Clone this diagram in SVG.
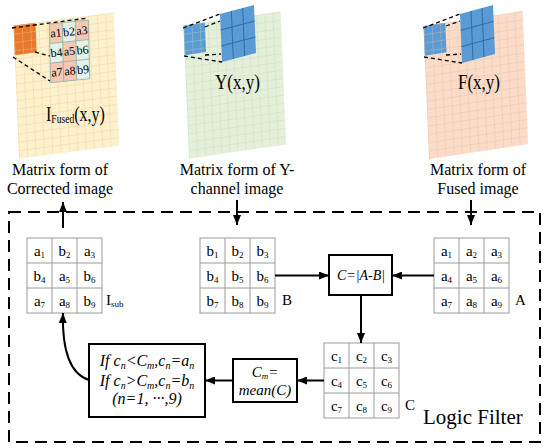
<svg xmlns="http://www.w3.org/2000/svg" width="550" height="448" viewBox="0 0 550 448">
<style>
.t{font-family:"Liberation Serif","Times New Roman",serif;fill:#000}
.lab{font-size:16px;text-anchor:middle}
.m{font-size:15px;text-anchor:middle}
.s{font-size:9px}
.it{font-style:italic}
.mx{fill:#fff;stroke:#9a9a9a;stroke-width:1}
.box{fill:#fff;stroke:#000;stroke-width:2}
.con{fill:none;stroke:#000;stroke-width:2;marker-end:url(#ah)}
.dash{fill:none;stroke:#000;stroke-width:1.3;stroke-dasharray:4 3}
.blue{fill:#5B9BD5}
.bl{fill:none;stroke:#2F6CA8;stroke-width:1;vector-effect:non-scaling-stroke}
.cl{stroke:#8fa8a0;stroke-width:0.8;vector-effect:non-scaling-stroke}
.ca{fill:#F5C8B3}
.cb{fill:#E1F2E9}
.mt{font-size:12px;text-anchor:middle}
</style>
<defs>
<marker id="ah" markerWidth="10" markerHeight="8" refX="10" refY="4" orient="auto" markerUnits="userSpaceOnUse"><path d="M0,0L10,4L0,8z" fill="#000"/></marker>
<pattern id="gY" width="8.333" height="8.125" patternUnits="userSpaceOnUse"><path d="M0 0H8.333M0 0V8.125" fill="none" stroke="#E2CD98" stroke-width="0.7"/></pattern>
<pattern id="gG" width="8.333" height="8.125" patternUnits="userSpaceOnUse"><path d="M0 0H8.333M0 0V8.125" fill="none" stroke="#C3D8B2" stroke-width="0.7"/></pattern>
<pattern id="gP" width="8.333" height="8.125" patternUnits="userSpaceOnUse"><path d="M0 0H8.333M0 0V8.125" fill="none" stroke="#E8BBA0" stroke-width="0.7"/></pattern>
</defs>

<g id="sheet-fused">
  <g transform="matrix(1 -0.13 0.0423 1.023 13.5 25.5)">
    <rect width="100" height="130" fill="#FDF0CD"/>
    <rect width="22" height="29" fill="#E8782B"/>
    <rect width="100" height="130" fill="url(#gY)"/>
  </g>
  <path class="dash" d="M12,28L88,18M35,52L50,56M13,57L50,81"/>
  <g transform="matrix(13 -1.33 0.47 19.56 49.3 24)">
    <rect x="0" y="0" width="1" height="1" class="ca"/><rect x="1" y="0" width="1" height="1" class="cb"/><rect x="2" y="0" width="1" height="1" class="ca"/>
    <rect x="0" y="1" width="1" height="1" class="cb"/><rect x="1" y="1" width="1" height="1" class="ca"/><rect x="2" y="1" width="1" height="1" class="cb"/>
    <rect x="0" y="2" width="1" height="1" class="ca"/><rect x="1" y="2" width="1" height="1" class="ca"/><rect x="2" y="2" width="1" height="1" class="cb"/>
    <path class="cl" fill="none" d="M0 0H3V3H0ZM1 0V3M2 0V3M0 1H3M0 2H3"/>
  </g>
  <g class="t mt">
    <text x="56" y="37" transform="rotate(-6 56 33)">a1</text>
    <text x="69" y="35.8" transform="rotate(-6 69 31.8)">b2</text>
    <text x="82" y="34.5" transform="rotate(-6 82 30.5)">a3</text>
    <text x="56.5" y="56.7" transform="rotate(-6 56.5 52.7)">b4</text>
    <text x="69.5" y="55.3" transform="rotate(-6 69.5 51.3)">a5</text>
    <text x="82.5" y="54" transform="rotate(-6 82.5 50)">b6</text>
    <text x="57" y="76.2" transform="rotate(-6 57 72.2)">a7</text>
    <text x="70" y="74.9" transform="rotate(-6 70 70.9)">a8</text>
    <text x="83" y="73.6" transform="rotate(-6 83 69.6)">b9</text>
  </g>
  <text class="t" font-size="20" transform="translate(46,121) scale(0.8,1)">I<tspan font-size="12" dy="2">Fused</tspan><tspan dy="-2">(x,y)</tspan></text>
</g>

<g id="sheet-y">
  <g transform="matrix(0.97 -0.14 0.0423 1.023 183.5 25.5)">
    <rect width="100" height="130" fill="#E5F0DA"/>
    <rect width="22" height="29" class="blue"/>
    <rect width="100" height="130" fill="url(#gG)"/>
  </g>
  <path class="dash" d="M183,28L220,14M205,27L220,21M184,56L222,62M205,55L221,54"/>
  <g transform="matrix(11.33 -3 0.67 16 220 14)">
    <rect width="3" height="3" class="blue"/>
    <path class="bl" d="M1 0V3M2 0V3M0 1H3M0 2H3"/>
  </g>
  <text class="t" font-size="20" transform="translate(215,89) scale(0.85,1)">Y(x,y)</text>
</g>

<g id="sheet-f">
  <g transform="matrix(0.99 -0.15 0.0423 1.023 423.5 26)">
    <rect width="100" height="130" fill="#FADCC8"/>
    <rect width="22" height="29" class="blue"/>
    <rect width="100" height="130" fill="url(#gP)"/>
  </g>
  <path class="dash" d="M423,28L460,14M446,26L460,21M424,57L462,63M446,55L461,54"/>
  <g transform="matrix(11 -3 0.67 16.33 460 14)">
    <rect width="3" height="3" class="blue"/>
    <path class="bl" d="M1 0V3M2 0V3M0 1H3M0 2H3"/>
  </g>
  <text class="t" font-size="20" transform="translate(458,89) scale(0.85,1)">F(x,y)</text>
</g>

<g id="label-corrected" class="t lab"><text x="60" y="175">Matrix form of</text><text x="60" y="194">Corrected image</text></g>
<g id="label-y" class="t lab"><text x="237" y="175">Matrix form of Y-</text><text x="237" y="194">channel image</text></g>
<g id="label-fused" class="t lab"><text x="478" y="175">Matrix form of</text><text x="478" y="194">Fused image</text></g>

<g id="logic-filter">
  <rect x="9" y="212" width="531" height="230" fill="none" stroke="#000" stroke-width="2" stroke-dasharray="12 7"/>
  <text class="t" x="423" y="424" font-size="21">Logic Filter</text>
</g>

<g id="matrix-isub">
  <g transform="translate(27,238)">
    <rect width="75" height="75" class="mx"/>
    <path d="M25 0V75M50 0V75M0 25H75M0 50H75" stroke="#9a9a9a" stroke-width="1"/>
    <g class="t m">
      <text x="12.5" y="18">a<tspan class="s" dy="2">1</tspan></text>
      <text x="37.5" y="18">b<tspan class="s" dy="2">2</tspan></text>
      <text x="62.5" y="18">a<tspan class="s" dy="2">3</tspan></text>
      <text x="12.5" y="43">b<tspan class="s" dy="2">4</tspan></text>
      <text x="37.5" y="43">a<tspan class="s" dy="2">5</tspan></text>
      <text x="62.5" y="43">b<tspan class="s" dy="2">6</tspan></text>
      <text x="12.5" y="68">a<tspan class="s" dy="2">7</tspan></text>
      <text x="37.5" y="68">a<tspan class="s" dy="2">8</tspan></text>
      <text x="62.5" y="68">b<tspan class="s" dy="2">9</tspan></text>
    </g>
  </g>
  <text class="t" x="106" y="305" font-size="15">I<tspan class="s" dy="2">sub</tspan></text>
</g>

<g id="matrix-b">
  <g transform="translate(200,238)">
    <rect width="75" height="75" class="mx"/>
    <path d="M25 0V75M50 0V75M0 25H75M0 50H75" stroke="#9a9a9a" stroke-width="1"/>
    <g class="t m">
      <text x="12.5" y="18">b<tspan class="s" dy="2">1</tspan></text>
      <text x="37.5" y="18">b<tspan class="s" dy="2">2</tspan></text>
      <text x="62.5" y="18">b<tspan class="s" dy="2">3</tspan></text>
      <text x="12.5" y="43">b<tspan class="s" dy="2">4</tspan></text>
      <text x="37.5" y="43">b<tspan class="s" dy="2">5</tspan></text>
      <text x="62.5" y="43">b<tspan class="s" dy="2">6</tspan></text>
      <text x="12.5" y="68">b<tspan class="s" dy="2">7</tspan></text>
      <text x="37.5" y="68">b<tspan class="s" dy="2">8</tspan></text>
      <text x="62.5" y="68">b<tspan class="s" dy="2">9</tspan></text>
    </g>
  </g>
  <text class="t" x="282" y="305" font-size="15">B</text>
</g>

<g id="matrix-a">
  <g transform="translate(434,238)">
    <rect width="75" height="75" class="mx"/>
    <path d="M25 0V75M50 0V75M0 25H75M0 50H75" stroke="#9a9a9a" stroke-width="1"/>
    <g class="t m">
      <text x="12.5" y="18">a<tspan class="s" dy="2">1</tspan></text>
      <text x="37.5" y="18">a<tspan class="s" dy="2">2</tspan></text>
      <text x="62.5" y="18">a<tspan class="s" dy="2">3</tspan></text>
      <text x="12.5" y="43">a<tspan class="s" dy="2">4</tspan></text>
      <text x="37.5" y="43">a<tspan class="s" dy="2">5</tspan></text>
      <text x="62.5" y="43">a<tspan class="s" dy="2">6</tspan></text>
      <text x="12.5" y="68">a<tspan class="s" dy="2">7</tspan></text>
      <text x="37.5" y="68">a<tspan class="s" dy="2">8</tspan></text>
      <text x="62.5" y="68">a<tspan class="s" dy="2">9</tspan></text>
    </g>
  </g>
  <text class="t" x="515" y="305" font-size="15">A</text>
</g>

<g id="matrix-c">
  <g transform="translate(324,343)">
    <rect width="75" height="75" class="mx"/>
    <path d="M25 0V75M50 0V75M0 25H75M0 50H75" stroke="#9a9a9a" stroke-width="1"/>
    <g class="t m">
      <text x="12.5" y="18">c<tspan class="s" dy="2">1</tspan></text>
      <text x="37.5" y="18">c<tspan class="s" dy="2">2</tspan></text>
      <text x="62.5" y="18">c<tspan class="s" dy="2">3</tspan></text>
      <text x="12.5" y="43">c<tspan class="s" dy="2">4</tspan></text>
      <text x="37.5" y="43">c<tspan class="s" dy="2">5</tspan></text>
      <text x="62.5" y="43">c<tspan class="s" dy="2">6</tspan></text>
      <text x="12.5" y="68">c<tspan class="s" dy="2">7</tspan></text>
      <text x="37.5" y="68">c<tspan class="s" dy="2">8</tspan></text>
      <text x="62.5" y="68">c<tspan class="s" dy="2">9</tspan></text>
    </g>
  </g>
  <text class="t" x="405" y="410" font-size="15">C</text>
</g>

<g id="box-diff">
  <rect x="329" y="255" width="63" height="40" class="box"/>
  <text class="t it" x="361" y="280" font-size="14" text-anchor="middle">C=|A-B|</text>
</g>

<g id="box-mean">
  <rect x="233" y="359" width="64" height="43" class="box"/>
  <text class="t it" x="265" y="377" font-size="15" text-anchor="middle">C<tspan class="s" dy="2">m</tspan><tspan dy="-2">=</tspan></text>
  <text class="t it" x="265" y="395" font-size="15" text-anchor="middle">mean(C)</text>
</g>

<g id="box-if">
  <rect x="89" y="344" width="116" height="73" class="box"/>
  <g class="t it" font-size="16" text-anchor="middle">
    <text x="147" y="366">If c<tspan font-size="10" dy="3">n</tspan><tspan dy="-3">&lt;C</tspan><tspan font-size="10" dy="3">m</tspan><tspan dy="-3">,c</tspan><tspan font-size="10" dy="3">n</tspan><tspan dy="-3">=a</tspan><tspan font-size="10" dy="3">n</tspan></text>
    <text x="147" y="386">If c<tspan font-size="10" dy="3">n</tspan><tspan dy="-3">&gt;C</tspan><tspan font-size="10" dy="3">m</tspan><tspan dy="-3">,c</tspan><tspan font-size="10" dy="3">n</tspan><tspan dy="-3">=b</tspan><tspan font-size="10" dy="3">n</tspan></text>
    <text x="147" y="404">(n=1, ···,9)</text>
  </g>
</g>

<g id="connectors">
  <path class="con" d="M63,228V202"/>
  <path class="con" d="M237,200V225"/>
  <path class="con" d="M471,200V225"/>
  <path class="con" d="M275,275.5H329"/>
  <path class="con" d="M434,275.5H392"/>
  <path class="con" d="M361,295V343"/>
  <path class="con" d="M324,380.5H297"/>
  <path class="con" d="M233,380.5H205"/>
  <path class="con" d="M89,380C70,374 62,352 63,313"/>
</g>
</svg>
